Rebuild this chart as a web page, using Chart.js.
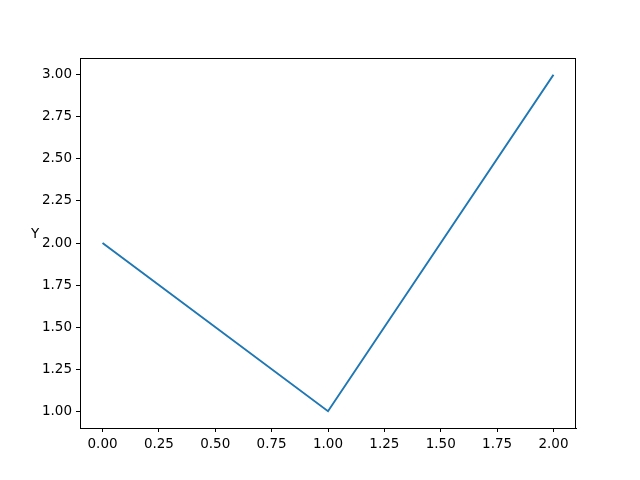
<!DOCTYPE html>
<html>
<head>
<meta charset="utf-8">
<script src="https://cdn.jsdelivr.net/npm/chart.js@4/dist/chart.umd.min.js"></script>
<style>
  html, body { margin: 0; padding: 0; background: #fff; }
  canvas { display: block; }
</style>
</head>
<body>
<canvas id="chart" width="640" height="480"></canvas>
<script>
// data
const xValues = [0, 1, 2]
const yValues = [2, 1, 3]
const xTicks = [0, 0.25, 0.5, 0.75, 1, 1.25, 1.5, 1.75, 2]
const yTicks = [1, 1.25, 1.5, 1.75, 2, 2.25, 2.5, 2.75, 3]
const yLabel = 'Y'

const font = { family: 'DejaVu Sans', size: 13.5 }

// full box around the plot area + the horizontal Y label
const framePlugin = {
  id: 'frame',
  afterDraw(chart) {
    const { ctx, chartArea } = chart
    ctx.save()
    ctx.strokeStyle = '#000'
    ctx.lineWidth = 1
    ctx.strokeRect(chartArea.left + 0.5, chartArea.top + 0.5,
      chartArea.right - chartArea.left - 1, chartArea.bottom - chartArea.top)
    ctx.fillStyle = '#000'
    ctx.font = '13.5px "DejaVu Sans"'
    ctx.textAlign = 'center'
    ctx.textBaseline = 'middle'
    ctx.fillText(yLabel, 35, 234)
    ctx.restore()
  },
}

new Chart(document.getElementById('chart'), {
  type: 'line',
  data: {
    datasets: [
      {
        data: xValues.map((x, i) => ({ x, y: yValues[i] })),
        borderColor: '#1f77b4',
        borderWidth: 2,
        pointRadius: 0,
        tension: 0,
        fill: false,
      },
    ],
  },
  options: {
    responsive: false,
    devicePixelRatio: 1,
    animation: false,
    layout: { padding: { top: 58, right: 64, left: 0, bottom: 0 } },
    plugins: {
      legend: { display: false },
      tooltip: { enabled: false },
    },
    scales: {
      x: {
        type: 'linear',
        min: -0.1,
        max: 2.1,
        afterBuildTicks: (scale) => {
          scale.ticks = xTicks.map((v) => ({ value: v }))
        },
        afterFit: (scale) => {
          scale.height = 52
        },
        ticks: {
          color: '#000',
          font,
          padding: 4,
          maxRotation: 0,
          callback: (v) => Number(v).toFixed(2),
        },
        grid: {
          drawOnChartArea: false,
          drawTicks: true,
          tickLength: 4,
          color: '#000',
        },
        border: { color: '#000' },
      },
      y: {
        type: 'linear',
        min: 0.9,
        max: 3.1,
        afterBuildTicks: (scale) => {
          scale.ticks = yTicks.map((v) => ({ value: v }))
        },
        afterFit: (scale) => {
          scale.width = 80
        },
        ticks: {
          color: '#000',
          font,
          padding: 4,
          callback: (v) => Number(v).toFixed(2),
        },
        grid: {
          drawOnChartArea: false,
          drawTicks: true,
          tickLength: 4,
          color: '#000',
        },
        border: { color: '#000' },
      },
    },
  },
  plugins: [framePlugin],
})
</script>
</body>
</html>
